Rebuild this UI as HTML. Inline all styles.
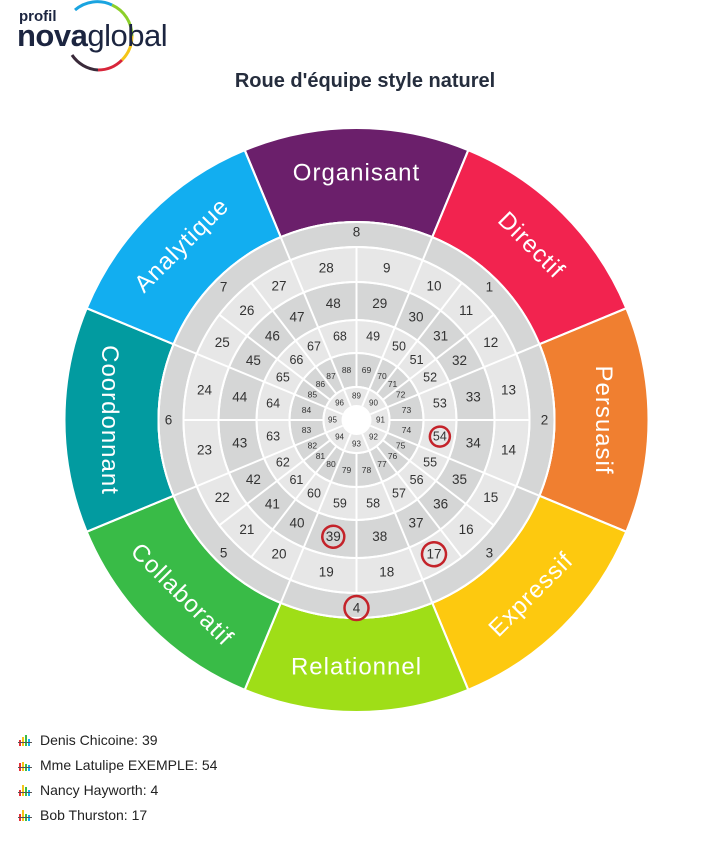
<!DOCTYPE html>
<html><head><meta charset="utf-8"><style>
html,body{margin:0;padding:0;background:#fff;width:715px;height:853px;overflow:hidden}
svg{display:block}
.n{font-family:"Liberation Sans",sans-serif;fill:#333;text-anchor:middle;dominant-baseline:central}
.a{font-size:13.5px}.e{font-size:8.5px}.f{font-size:8px}.d{font-size:12.5px}
.lab{font-family:"Liberation Sans",sans-serif;fill:#fff;font-size:24px;text-anchor:middle;dominant-baseline:central;letter-spacing:1px}
.lg{font-family:"Liberation Sans",sans-serif;font-size:14px;fill:#222}
</style></head><body>
<svg width="715" height="853" viewBox="0 0 715 853" xmlns="http://www.w3.org/2000/svg">
<!-- logo -->
<g fill="none" stroke-width="3">
<path d="M72 55 A34 34 0 0 0 98 70" stroke="#3a2a3a"/>
<path d="M98 70 A34 34 0 0 0 122 60" stroke="#d8253a"/>
<path d="M122 60 A34 34 0 0 0 132 36" stroke="#f5c518"/>
<path d="M132 36 A34 34 0 0 0 112 5" stroke="#8ccf2a"/>
<path d="M112 5 A34 34 0 0 0 75 10" stroke="#1aa4e0"/>
</g>
<text x="19" y="21" font-family="Liberation Sans,sans-serif" font-weight="bold" font-size="15" fill="#1c2540">profil</text>
<text x="17" y="46" font-family="Liberation Sans,sans-serif" font-size="31" fill="#1c2540" letter-spacing="-0.5"><tspan font-weight="bold">nova</tspan>global</text>
<text x="365" y="87" font-family="Liberation Sans,sans-serif" font-weight="bold" font-size="20" fill="#252d3d" text-anchor="middle">Roue d'équipe style naturel</text>

<g transform="translate(356.5,420)">
<g stroke="#fff" stroke-width="2">
<path d="M-75.8,-182.9 L-111.7,-269.8 A292 292 0 0 1 111.7,-269.8 L75.8,-182.9 A198 198 0 0 0 -75.8,-182.9Z" fill="#6b1f6b"/>
<path d="M-75.8,-182.9 L-111.7,-269.8 A292 292 0 0 1 111.7,-269.8 L75.8,-182.9 A198 198 0 0 0 -75.8,-182.9Z" fill="#f2234f" transform="rotate(45)"/>
<path d="M-75.8,-182.9 L-111.7,-269.8 A292 292 0 0 1 111.7,-269.8 L75.8,-182.9 A198 198 0 0 0 -75.8,-182.9Z" fill="#f07f30" transform="rotate(90)"/>
<path d="M-75.8,-182.9 L-111.7,-269.8 A292 292 0 0 1 111.7,-269.8 L75.8,-182.9 A198 198 0 0 0 -75.8,-182.9Z" fill="#fdc90f" transform="rotate(135)"/>
<path d="M-75.8,-182.9 L-111.7,-269.8 A292 292 0 0 1 111.7,-269.8 L75.8,-182.9 A198 198 0 0 0 -75.8,-182.9Z" fill="#9fde17" transform="rotate(180)"/>
<path d="M-75.8,-182.9 L-111.7,-269.8 A292 292 0 0 1 111.7,-269.8 L75.8,-182.9 A198 198 0 0 0 -75.8,-182.9Z" fill="#39bb47" transform="rotate(225)"/>
<path d="M-75.8,-182.9 L-111.7,-269.8 A292 292 0 0 1 111.7,-269.8 L75.8,-182.9 A198 198 0 0 0 -75.8,-182.9Z" fill="#029ba0" transform="rotate(270)"/>
<path d="M-75.8,-182.9 L-111.7,-269.8 A292 292 0 0 1 111.7,-269.8 L75.8,-182.9 A198 198 0 0 0 -75.8,-182.9Z" fill="#12aef0" transform="rotate(315)"/>
<circle r="198" fill="#d5d6d6"/>
<circle r="173" fill="#e7e7e7"/>
<circle r="138" fill="#d5d6d6"/>
<circle r="100" fill="#e7e7e7"/>
<circle r="67" fill="#d5d6d6"/>
<circle r="33" fill="#e7e7e7"/>
<g>
<line x1="0" y1="-15" x2="0" y2="-292" transform="rotate(22.5)"/>
<line x1="0" y1="-15" x2="0" y2="-292" transform="rotate(67.5)"/>
<line x1="0" y1="-15" x2="0" y2="-292" transform="rotate(112.5)"/>
<line x1="0" y1="-15" x2="0" y2="-292" transform="rotate(157.5)"/>
<line x1="0" y1="-15" x2="0" y2="-292" transform="rotate(202.5)"/>
<line x1="0" y1="-15" x2="0" y2="-292" transform="rotate(247.5)"/>
<line x1="0" y1="-15" x2="0" y2="-292" transform="rotate(292.5)"/>
<line x1="0" y1="-15" x2="0" y2="-292" transform="rotate(337.5)"/>
<line x1="0" y1="-33" x2="0" y2="-173" transform="rotate(0)"/>
<line x1="0" y1="-33" x2="0" y2="-173" transform="rotate(37.5)"/>
<line x1="0" y1="-33" x2="0" y2="-173" transform="rotate(52.5)"/>
<line x1="0" y1="-33" x2="0" y2="-173" transform="rotate(90)"/>
<line x1="0" y1="-33" x2="0" y2="-173" transform="rotate(127.5)"/>
<line x1="0" y1="-33" x2="0" y2="-173" transform="rotate(142.5)"/>
<line x1="0" y1="-33" x2="0" y2="-173" transform="rotate(180)"/>
<line x1="0" y1="-33" x2="0" y2="-173" transform="rotate(217.5)"/>
<line x1="0" y1="-33" x2="0" y2="-173" transform="rotate(232.5)"/>
<line x1="0" y1="-33" x2="0" y2="-173" transform="rotate(270)"/>
<line x1="0" y1="-33" x2="0" y2="-173" transform="rotate(307.5)"/>
<line x1="0" y1="-33" x2="0" y2="-173" transform="rotate(322.5)"/>
</g>
<g fill="none">
<circle r="292" stroke-width="1"/><circle r="198"/><circle r="173"/><circle r="138"/><circle r="100"/><circle r="67"/><circle r="33"/>
</g>
<circle r="15" fill="#fff" stroke="none"/>
</g>

<!-- labels -->
<g transform="rotate(0)"><text class="lab" transform="translate(0,-247)">Organisant</text></g>
<g transform="rotate(45)"><text class="lab" transform="translate(0,-247)">Directif</text></g>
<g transform="rotate(90)"><text class="lab" transform="translate(0,-247)">Persuasif</text></g>
<g transform="rotate(135)"><text class="lab" transform="translate(0,-247) rotate(180)">Expressif</text></g>
<g transform="rotate(180)"><text class="lab" transform="translate(0,-247) rotate(180)">Relationnel</text></g>
<g transform="rotate(225)"><text class="lab" transform="translate(0,-247) rotate(180)">Collaboratif</text></g>
<g transform="rotate(270)"><text class="lab" transform="translate(0,-247) rotate(180)">Coordonnant</text></g>
<g transform="rotate(315)"><text class="lab" transform="translate(0,-247)">Analytique</text></g>

<!-- ring A -->
<g transform="rotate(45)"><text class="n a" transform="translate(0,-188) rotate(-45)">1</text></g>
<g transform="rotate(90)"><text class="n a" transform="translate(0,-188) rotate(-90)">2</text></g>
<g transform="rotate(135)"><text class="n a" transform="translate(0,-188) rotate(-135)">3</text></g>
<g transform="rotate(180)"><text class="n a" transform="translate(0,-188) rotate(-180)">4</text></g>
<g transform="rotate(225)"><text class="n a" transform="translate(0,-188) rotate(-225)">5</text></g>
<g transform="rotate(270)"><text class="n a" transform="translate(0,-188) rotate(-270)">6</text></g>
<g transform="rotate(315)"><text class="n a" transform="translate(0,-188) rotate(-315)">7</text></g>
<g transform="rotate(0)"><text class="n a" transform="translate(0,-188)">8</text></g>
<!-- ring B -->
<g transform="rotate(11.25)"><text class="n a" transform="translate(0,-155) rotate(-11.25)">9</text></g>
<g transform="rotate(30)"><text class="n a" transform="translate(0,-155) rotate(-30)">10</text></g>
<g transform="rotate(45)"><text class="n a" transform="translate(0,-155) rotate(-45)">11</text></g>
<g transform="rotate(60)"><text class="n a" transform="translate(0,-155) rotate(-60)">12</text></g>
<g transform="rotate(78.75)"><text class="n a" transform="translate(0,-155) rotate(-78.75)">13</text></g>
<g transform="rotate(101.25)"><text class="n a" transform="translate(0,-155) rotate(-101.25)">14</text></g>
<g transform="rotate(120)"><text class="n a" transform="translate(0,-155) rotate(-120)">15</text></g>
<g transform="rotate(135)"><text class="n a" transform="translate(0,-155) rotate(-135)">16</text></g>
<g transform="rotate(150)"><text class="n a" transform="translate(0,-155) rotate(-150)">17</text></g>
<g transform="rotate(168.75)"><text class="n a" transform="translate(0,-155) rotate(-168.75)">18</text></g>
<g transform="rotate(191.25)"><text class="n a" transform="translate(0,-155) rotate(-191.25)">19</text></g>
<g transform="rotate(210)"><text class="n a" transform="translate(0,-155) rotate(-210)">20</text></g>
<g transform="rotate(225)"><text class="n a" transform="translate(0,-155) rotate(-225)">21</text></g>
<g transform="rotate(240)"><text class="n a" transform="translate(0,-155) rotate(-240)">22</text></g>
<g transform="rotate(258.75)"><text class="n a" transform="translate(0,-155) rotate(-258.75)">23</text></g>
<g transform="rotate(281.25)"><text class="n a" transform="translate(0,-155) rotate(-281.25)">24</text></g>
<g transform="rotate(300)"><text class="n a" transform="translate(0,-155) rotate(-300)">25</text></g>
<g transform="rotate(315)"><text class="n a" transform="translate(0,-155) rotate(-315)">26</text></g>
<g transform="rotate(330)"><text class="n a" transform="translate(0,-155) rotate(-330)">27</text></g>
<g transform="rotate(348.75)"><text class="n a" transform="translate(0,-155) rotate(-348.75)">28</text></g>
<!-- ring C -->
<g transform="rotate(11.25)"><text class="n a" transform="translate(0,-119) rotate(-11.25)">29</text></g>
<g transform="rotate(30)"><text class="n a" transform="translate(0,-119) rotate(-30)">30</text></g>
<g transform="rotate(45)"><text class="n a" transform="translate(0,-119) rotate(-45)">31</text></g>
<g transform="rotate(60)"><text class="n a" transform="translate(0,-119) rotate(-60)">32</text></g>
<g transform="rotate(78.75)"><text class="n a" transform="translate(0,-119) rotate(-78.75)">33</text></g>
<g transform="rotate(101.25)"><text class="n a" transform="translate(0,-119) rotate(-101.25)">34</text></g>
<g transform="rotate(120)"><text class="n a" transform="translate(0,-119) rotate(-120)">35</text></g>
<g transform="rotate(135)"><text class="n a" transform="translate(0,-119) rotate(-135)">36</text></g>
<g transform="rotate(150)"><text class="n a" transform="translate(0,-119) rotate(-150)">37</text></g>
<g transform="rotate(168.75)"><text class="n a" transform="translate(0,-119) rotate(-168.75)">38</text></g>
<g transform="rotate(191.25)"><text class="n a" transform="translate(0,-119) rotate(-191.25)">39</text></g>
<g transform="rotate(210)"><text class="n a" transform="translate(0,-119) rotate(-210)">40</text></g>
<g transform="rotate(225)"><text class="n a" transform="translate(0,-119) rotate(-225)">41</text></g>
<g transform="rotate(240)"><text class="n a" transform="translate(0,-119) rotate(-240)">42</text></g>
<g transform="rotate(258.75)"><text class="n a" transform="translate(0,-119) rotate(-258.75)">43</text></g>
<g transform="rotate(281.25)"><text class="n a" transform="translate(0,-119) rotate(-281.25)">44</text></g>
<g transform="rotate(300)"><text class="n a" transform="translate(0,-119) rotate(-300)">45</text></g>
<g transform="rotate(315)"><text class="n a" transform="translate(0,-119) rotate(-315)">46</text></g>
<g transform="rotate(330)"><text class="n a" transform="translate(0,-119) rotate(-330)">47</text></g>
<g transform="rotate(348.75)"><text class="n a" transform="translate(0,-119) rotate(-348.75)">48</text></g>
<!-- ring D -->
<g transform="rotate(11.25)"><text class="n d" transform="translate(0,-85) rotate(-11.25)">49</text></g>
<g transform="rotate(30)"><text class="n d" transform="translate(0,-85) rotate(-30)">50</text></g>
<g transform="rotate(45)"><text class="n d" transform="translate(0,-85) rotate(-45)">51</text></g>
<g transform="rotate(60)"><text class="n d" transform="translate(0,-85) rotate(-60)">52</text></g>
<g transform="rotate(78.75)"><text class="n d" transform="translate(0,-85) rotate(-78.75)">53</text></g>
<g transform="rotate(101.25)"><text class="n d" transform="translate(0,-85) rotate(-101.25)">54</text></g>
<g transform="rotate(120)"><text class="n d" transform="translate(0,-85) rotate(-120)">55</text></g>
<g transform="rotate(135)"><text class="n d" transform="translate(0,-85) rotate(-135)">56</text></g>
<g transform="rotate(150)"><text class="n d" transform="translate(0,-85) rotate(-150)">57</text></g>
<g transform="rotate(168.75)"><text class="n d" transform="translate(0,-85) rotate(-168.75)">58</text></g>
<g transform="rotate(191.25)"><text class="n d" transform="translate(0,-85) rotate(-191.25)">59</text></g>
<g transform="rotate(210)"><text class="n d" transform="translate(0,-85) rotate(-210)">60</text></g>
<g transform="rotate(225)"><text class="n d" transform="translate(0,-85) rotate(-225)">61</text></g>
<g transform="rotate(240)"><text class="n d" transform="translate(0,-85) rotate(-240)">62</text></g>
<g transform="rotate(258.75)"><text class="n d" transform="translate(0,-85) rotate(-258.75)">63</text></g>
<g transform="rotate(281.25)"><text class="n d" transform="translate(0,-85) rotate(-281.25)">64</text></g>
<g transform="rotate(300)"><text class="n d" transform="translate(0,-85) rotate(-300)">65</text></g>
<g transform="rotate(315)"><text class="n d" transform="translate(0,-85) rotate(-315)">66</text></g>
<g transform="rotate(330)"><text class="n d" transform="translate(0,-85) rotate(-330)">67</text></g>
<g transform="rotate(348.75)"><text class="n d" transform="translate(0,-85) rotate(-348.75)">68</text></g>
<!-- ring E -->
<g transform="rotate(11.25)"><text class="n e" transform="translate(0,-51) rotate(-11.25)">69</text></g>
<g transform="rotate(30)"><text class="n e" transform="translate(0,-51) rotate(-30)">70</text></g>
<g transform="rotate(45)"><text class="n e" transform="translate(0,-51) rotate(-45)">71</text></g>
<g transform="rotate(60)"><text class="n e" transform="translate(0,-51) rotate(-60)">72</text></g>
<g transform="rotate(78.75)"><text class="n e" transform="translate(0,-51) rotate(-78.75)">73</text></g>
<g transform="rotate(101.25)"><text class="n e" transform="translate(0,-51) rotate(-101.25)">74</text></g>
<g transform="rotate(120)"><text class="n e" transform="translate(0,-51) rotate(-120)">75</text></g>
<g transform="rotate(135)"><text class="n e" transform="translate(0,-51) rotate(-135)">76</text></g>
<g transform="rotate(150)"><text class="n e" transform="translate(0,-51) rotate(-150)">77</text></g>
<g transform="rotate(168.75)"><text class="n e" transform="translate(0,-51) rotate(-168.75)">78</text></g>
<g transform="rotate(191.25)"><text class="n e" transform="translate(0,-51) rotate(-191.25)">79</text></g>
<g transform="rotate(210)"><text class="n e" transform="translate(0,-51) rotate(-210)">80</text></g>
<g transform="rotate(225)"><text class="n e" transform="translate(0,-51) rotate(-225)">81</text></g>
<g transform="rotate(240)"><text class="n e" transform="translate(0,-51) rotate(-240)">82</text></g>
<g transform="rotate(258.75)"><text class="n e" transform="translate(0,-51) rotate(-258.75)">83</text></g>
<g transform="rotate(281.25)"><text class="n e" transform="translate(0,-51) rotate(-281.25)">84</text></g>
<g transform="rotate(300)"><text class="n e" transform="translate(0,-51) rotate(-300)">85</text></g>
<g transform="rotate(315)"><text class="n e" transform="translate(0,-51) rotate(-315)">86</text></g>
<g transform="rotate(330)"><text class="n e" transform="translate(0,-51) rotate(-330)">87</text></g>
<g transform="rotate(348.75)"><text class="n e" transform="translate(0,-51) rotate(-348.75)">88</text></g>
<!-- ring F -->
<g transform="rotate(0)"><text class="n f" transform="translate(0,-24)">89</text></g>
<g transform="rotate(45)"><text class="n f" transform="translate(0,-24) rotate(-45)">90</text></g>
<g transform="rotate(90)"><text class="n f" transform="translate(0,-24) rotate(-90)">91</text></g>
<g transform="rotate(135)"><text class="n f" transform="translate(0,-24) rotate(-135)">92</text></g>
<g transform="rotate(180)"><text class="n f" transform="translate(0,-24) rotate(-180)">93</text></g>
<g transform="rotate(225)"><text class="n f" transform="translate(0,-24) rotate(-225)">94</text></g>
<g transform="rotate(270)"><text class="n f" transform="translate(0,-24) rotate(-270)">95</text></g>
<g transform="rotate(315)"><text class="n f" transform="translate(0,-24) rotate(-315)">96</text></g>

<!-- markers -->
<g fill="none" stroke="#c4232a" stroke-width="2.5">
<g transform="rotate(101.25)"><circle cx="0" cy="-85" r="10"/></g>
<g transform="rotate(191.25)"><circle cx="0" cy="-119" r="11"/></g>
<g transform="rotate(150)"><circle cx="0" cy="-155" r="12"/></g>
<g transform="rotate(180)"><circle cx="0" cy="-188" r="12"/></g>
</g>
</g>

<!-- legend -->
<g>
<g transform="translate(18,734)"><rect x="1" y="6" width="2" height="6" fill="#e8303a"/><rect x="4" y="3" width="2" height="9" fill="#f5c518"/><rect x="7" y="1" width="2" height="11" fill="#3bbb47"/><rect x="10" y="5" width="2" height="7" fill="#12aef0"/><rect x="0" y="8" width="14" height="1" fill="#555"/></g>
<text class="lg" x="40" y="745">Denis Chicoine: 39</text>
<g transform="translate(18,759)"><rect x="1" y="4" width="2" height="8" fill="#e8303a"/><rect x="4" y="3" width="2" height="9" fill="#f5c518"/><rect x="7" y="5" width="2" height="7" fill="#3bbb47"/><rect x="10" y="6" width="2" height="6" fill="#12aef0"/><rect x="0" y="8" width="14" height="1" fill="#555"/></g>
<text class="lg" x="40" y="770">Mme Latulipe EXEMPLE: 54</text>
<g transform="translate(18,784)"><rect x="1" y="6" width="2" height="6" fill="#e8303a"/><rect x="4" y="1" width="2" height="11" fill="#f5c518"/><rect x="7" y="3" width="2" height="9" fill="#3bbb47"/><rect x="10" y="6" width="2" height="6" fill="#12aef0"/><rect x="0" y="8" width="14" height="1" fill="#555"/></g>
<text class="lg" x="40" y="795">Nancy Hayworth: 4</text>
<g transform="translate(18,809)"><rect x="1" y="5" width="2" height="7" fill="#e8303a"/><rect x="4" y="1" width="2" height="11" fill="#f5c518"/><rect x="7" y="5" width="2" height="7" fill="#3bbb47"/><rect x="10" y="6" width="2" height="6" fill="#12aef0"/><rect x="0" y="8" width="14" height="1" fill="#555"/></g>
<text class="lg" x="40" y="820">Bob Thurston: 17</text>
</g>
</svg>
</body></html>
